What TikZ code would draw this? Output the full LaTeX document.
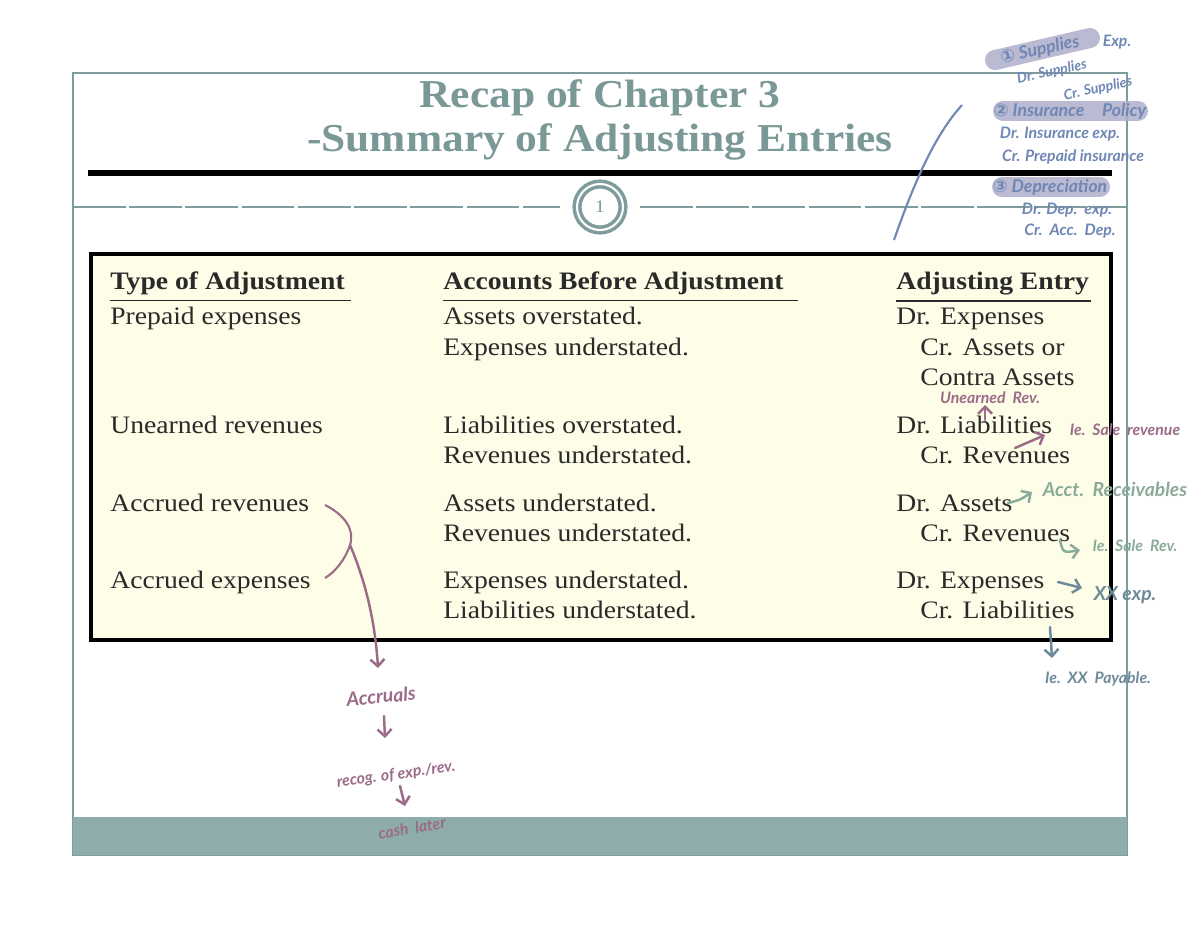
\documentclass[tikz,border=0pt]{standalone}
\usepackage{fontspec}
\setmainfont[FakeStretch=1.1]{Liberation Serif}
\newfontfamily\hand{DejaVu Sans}
\newfontfamily\handb{Lato}
\definecolor{teal}{HTML}{8DACAA}
\definecolor{ttl}{HTML}{7A9896}
\definecolor{frame}{HTML}{7F9C9C}
\definecolor{cream}{HTML}{FEFDE8}
\definecolor{txt}{HTML}{2A2A2A}
\definecolor{mauve}{HTML}{9B6B88}
\definecolor{hgreen}{HTML}{8AAB9A}
\definecolor{hblue}{HTML}{6F87B5}
\definecolor{slate}{HTML}{6E8A9A}
\definecolor{pill}{HTML}{AEAECB}
\tikzset{
 tx/.style={anchor=base west,font=\fontsize{14.3}{16}\selectfont,text=txt,inner sep=0},
 hd/.style={tx,font=\fontsize{14.3}{16}\selectfont\bfseries},
 hw/.style={font=\handb\itshape\bfseries\fontsize{9}{10}\selectfont,inner sep=0},
 hwa/.style={line width=1.4pt,-{Straight Barb[length=4pt]},line cap=round},
 pl/.style={pill,opacity=0.85,line width=0.4cm,line cap=round},
}
\usetikzlibrary{arrows.meta}
\begin{document}
\begin{tikzpicture}[x=0.02cm,y=-0.02cm]
\useasboundingbox (0,0) rectangle (1200,927);
\fill[white] (0,0) rectangle (1200,927);
% slide
\draw[frame,line width=1.2pt] (73,73) rectangle (1127,855);
\fill[teal] (73,817) rectangle (1127,855);
\node[font=\fontsize{22.5}{25}\selectfont\bfseries,text=ttl,align=center] (title) at (600,120) {Recap of Chapter 3\\-Summary of Adjusting Entries};
\fill[black] (88,170) rectangle (1112,176);
\draw[frame,line width=1pt,dash pattern=on 30pt off 2pt] (73,207) -- (560,207);
\draw[frame,line width=1pt,dash pattern=on 30pt off 2pt] (640,207) -- (1127,207);
\node[circle,draw=frame,line width=2pt,double=white,double distance=1.2pt,minimum size=0.92cm,font=\fontsize{10}{12}\selectfont,text=ttl] (num) at (600,207) {1};
% table
\draw[black,line width=1.8pt,fill=cream] (91,254) rectangle (1111,640);
\node[hd] (h1) at (110,289) {Type of Adjustment};
\node[hd] (h2) at (443,289) {Accounts Before Adjustment};
\node[hd] (h3) at (896,289) {Adjusting Entry};
\draw[txt,line width=0.8pt] (h1.south west)++(0,6) -- ++(241,0);
\draw[txt,line width=0.8pt] (h2.south west)++(0,6) -- ++(355,0);
\draw[txt,line width=0.8pt] (h3.south west)++(0,6) -- ++(195,0);
\node[tx] (a1) at (110,324) {Prepaid expenses};
\node[tx] (b1) at (443,324) {Assets overstated.};
\node[tx] (b2) at (443,355) {Expenses understated.};
\node[tx] (c1) at (896,324) {Dr. Expenses};
\node[tx] (c2) at (920,355) {Cr. Assets or};
\node[tx] (c3) at (920,385) {Contra Assets};
\node[tx] (a2) at (110,433) {Unearned revenues};
\node[tx] (b3) at (443,433) {Liabilities overstated.};
\node[tx] (b4) at (443,463) {Revenues understated.};
\node[tx] (c4) at (896,433) {Dr. Liabilities};
\node[tx] (c5) at (920,463) {Cr. Revenues};
\node[tx] (a3) at (110,511) {Accrued revenues};
\node[tx] (b5) at (443,511) {Assets understated.};
\node[tx] (b6) at (443,541) {Revenues understated.};
\node[tx] (c6) at (896,511) {Dr. Assets};
\node[tx] (c7) at (920,541) {Cr. Revenues};
\node[tx] (a4) at (110,588) {Accrued expenses};
\node[tx] (b7) at (443,588) {Expenses understated.};
\node[tx] (b8) at (443,618) {Liabilities understated.};
\node[tx] (c8) at (896,588) {Dr. Expenses};
\node[tx] (c9) at (920,618) {Cr. Liabilities};
% top-right blue notes
\draw[pl] (995,60) -- (1090,38);
\draw[pl] (1003,111) -- (1138,111);
\draw[pl] (1002,187) -- (1100,187);
\node[hw,text=hblue,rotate=12,font=\handb\itshape\bfseries\fontsize{10}{11}\selectfont] (s1) at (1040,50) {\hand\char"2460\handb\ Supplies};
\node[hw,text=hblue] (s1e) at (1117,42) {Exp.};
\node[hw,text=hblue,rotate=12,font=\handb\itshape\bfseries\fontsize{8}{9}\selectfont] (s1d) at (1052,72) {Dr. Supplies};
\node[hw,text=hblue,rotate=12,font=\handb\itshape\bfseries\fontsize{8}{9}\selectfont] (s1c) at (1098,89) {Cr. Supplies};
\node[hw,text=hblue,font=\handb\itshape\bfseries\fontsize{10}{11}\selectfont] (s2) at (1070,111) {\hand\char"2461\handb\ Insurance\quad Policy};
\node[hw,text=hblue] (s2d) at (1060,134) {Dr. Insurance exp.};
\node[hw,text=hblue] (s2c) at (1073,157) {Cr. Prepaid insurance};
\node[hw,text=hblue,font=\handb\itshape\bfseries\fontsize{10}{11}\selectfont] (s3) at (1050,187) {\hand\char"2462\handb\ Depreciation};
\node[hw,text=hblue] (s3d) at (1067,210) {Dr. Dep.\ \ exp.};
\node[hw,text=hblue] (s3c) at (1070,231) {Cr.\ \ Acc.\ \ Dep.};
\draw[hblue,line width=1.2pt] (894,240) .. controls (915,180) and (935,135) .. (962,105);
% right side notes
\node[hw,text=mauve] (n1) at (990,398) {Unearned\ \ Rev.};
\draw[mauve,hwa] (985,420) -- (985,405);
\node[hw,text=mauve] (n2) at (1125,430) {Ie.\ \ Sale\ \ revenue};
\draw[mauve,hwa] (1015,448) -- (1045,435);
\node[hw,text=hgreen,font=\handb\itshape\bfseries\fontsize{11}{12}\selectfont] (n3) at (1115,489) {Acct.\ \ Receivables};
\draw[hgreen,hwa] (1008,503) .. controls (1020,500) .. (1032,492);
\node[hw,text=hgreen] (n4) at (1135,546) {Ie.\ \ Sale\ \ Rev.};
\draw[hgreen,hwa] (1060,540) .. controls (1063,553) .. (1080,550);
\node[hw,text=slate,font=\handb\itshape\bfseries\fontsize{11}{12}\selectfont] (n5) at (1125,595) {XX exp.};
\draw[slate,hwa] (1058,582) -- (1082,588);
\draw[slate,hwa] (1050,627) -- (1052,658);
\node[hw,text=slate] (n6) at (1098,679) {Ie.\ \ XX\ \ Payable.};
% accruals notes
\draw[mauve,line width=1.2pt] (325,505) .. controls (345,515) and (355,530) .. (350,545) .. controls (345,560) and (335,572) .. (325,578);
\draw[mauve,hwa] (350,545) .. controls (365,580) and (375,620) .. (378,668);
\node[hw,text=mauve,rotate=5,font=\handb\itshape\bfseries\fontsize{11}{12}\selectfont] (m1) at (381,696) {Accruals};
\draw[mauve,hwa] (384,716) -- (385,738);
\node[hw,text=mauve,rotate=8] (m2) at (396,775) {recog. of exp./rev.};
\draw[mauve,hwa] (400,786) -- (405,806);
\node[hw,text=mauve,rotate=10] (m3) at (412,828) {cash\ \ later};
\end{tikzpicture}
\end{document}
